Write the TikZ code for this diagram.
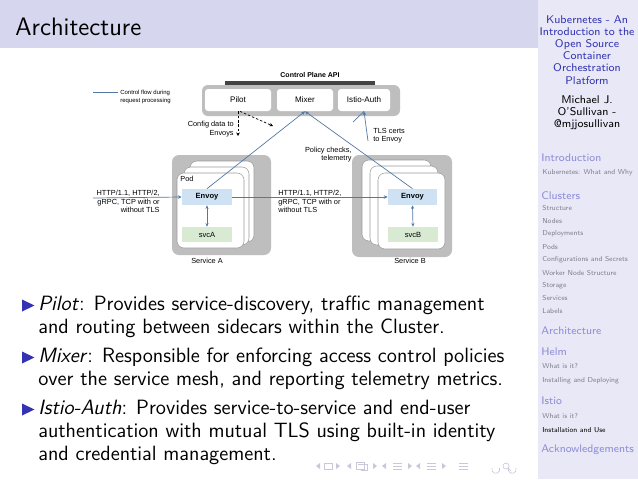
\documentclass[tikz,border=0pt]{standalone}
\usepackage{fontspec}
\newfontfamily\dg{Liberation Sans}
\usetikzlibrary{arrows.meta}
\newdimen\pxu \pxu=0.2006mm
\definecolor{hdr}{RGB}{214,214,238}
\definecolor{side}{RGB}{232,232,246}
\definecolor{struct}{RGB}{51,51,179}
\definecolor{secc}{RGB}{140,140,215}
\definecolor{subc}{RGB}{125,125,140}
\definecolor{svcgray}{RGB}{190,190,190}
\definecolor{podline}{RGB}{155,155,155}
\definecolor{envoyc}{RGB}{207,226,243}
\definecolor{svcc}{RGB}{217,234,211}
\definecolor{flow}{RGB}{84,120,165}
\definecolor{barc}{RGB}{67,67,67}
\definecolor{navc}{RGB}{200,200,218}
\tikzset{
  sz/.style 2 args={minimum width=#1\pxu, minimum height=#2\pxu, inner sep=0pt},
  lbl/.style={font=\dg\fontsize{4.2}{4.9}\selectfont, inner sep=0pt},
  bigbg/.style={fill=svcgray, draw=none, rounded corners=7\pxu},
  pod/.style={fill=white, draw=podline, line width=0.3pt, rounded corners=7\pxu},
  cpbox/.style={fill=white, draw=none, rounded corners=3\pxu, font=\dg\fontsize{4.6}{5}\selectfont},
  envbox/.style={fill=envoyc, draw=none, font=\dg\bfseries\fontsize{4.3}{5}\selectfont},
  svcbox/.style={fill=svcc, draw=none, font=\dg\fontsize{4.3}{5}\selectfont},
  flowarr/.style={draw=flow, line width=0.4pt, -{Stealth[length=2.2pt,width=2pt]}},
  flowdbl/.style={draw=flow, line width=0.4pt, {Stealth[length=2pt,width=1.8pt]}-{Stealth[length=2pt,width=1.8pt]}},
  flowline/.style={draw=flow, line width=0.4pt},
  dasharr/.style={draw=black, line width=0.4pt, dash pattern=on 1.4pt off 1.1pt, -{Stealth[length=2pt,width=2pt]}},
  sec/.style={anchor=west, text=secc, font=\sffamily\fontsize{6.3}{7}\selectfont, inner sep=0pt},
  subsec/.style={anchor=west, text=subc, font=\sffamily\fontsize{4.1}{5}\selectfont, inner sep=0pt},
  body/.style={anchor=base west, font=\sffamily\fontsize{11.8}{14}\selectfont, inner sep=0pt},
}
\begin{document}
\begin{tikzpicture}[x=\pxu, y=-\pxu]
\useasboundingbox (0,0) rectangle (638,479);
\fill[white] (0,0) rectangle (638,479);
% header and sidebar
\fill[hdr] (0,0) rectangle (538,48);
\fill[side] (538,0) rectangle (638,479);
\node[anchor=base west, inner sep=0pt, font=\sffamily\fontsize{14.4}{17}\selectfont] (title) at (15,35) {Architecture};

% sidebar
\node[anchor=north, align=center, inner sep=0pt, text=struct, font=\sffamily\fontsize{6.4}{6.95}\selectfont] (stitle) at (587,15) {Kubernetes - An\\Introduction to the\\Open Source\\Container\\Orchestration\\Platform};
\node[anchor=north, align=center, inner sep=0pt, font=\sffamily\fontsize{6.4}{6.95}\selectfont] (sauthor) at (587,95) {Michael J.\\O'Sullivan -\\@mjjosullivan};
\node[sec] (n1) at (541,158) {Introduction};
\node[subsec] (n2) at (542,173) {Kubernetes: What and Why};
\node[sec] (n3) at (541,196) {Clusters};
\node[subsec] (n4) at (542,208) {Structure};
\node[subsec] (n5) at (542,221) {Nodes};
\node[subsec] (n6) at (542,234) {Deployments};
\node[subsec] (n7) at (542,247) {Pods};
\node[subsec] (n8) at (542,260) {Configurations and Secrets};
\node[subsec] (n9) at (542,273) {Worker Node Structure};
\node[subsec] (n10) at (542,286) {Storage};
\node[subsec] (n11) at (542,298) {Services};
\node[subsec] (n12) at (542,311) {Labels};
\node[sec] (n13) at (541,331) {Architecture};
\node[sec] (n14) at (541,352) {Helm};
\node[subsec] (n15) at (542,366) {What is it?};
\node[subsec] (n16) at (542,381) {Installing and Deploying};
\node[sec] (n17) at (541,401) {Istio};
\node[subsec] (n18) at (542,416) {What is it?};
\node[subsec, text=black] (n19) at (542,430) {Installation and Use};
\node[sec] (n20) at (541,450) {Acknowledgements};

% ---------- diagram ----------
% legend
\coordinate (lg1) at (93,92);
\coordinate (lg2) at (118,92);
\draw[flowline] (lg1) -- (lg2);
\node[lbl, anchor=west, align=left, font=\dg\fontsize{3.4}{4.2}\selectfont] (legend) at (120,97) {Control flow during\\request processing};

% control plane
\node[lbl, font=\dg\bfseries\fontsize{4}{5}\selectfont] (cpapi) at (310,75) {Control Plane API};
\node[sz={150}{4}, fill=barc] (cpbar) at (300,83) {};
\node[sz={198}{31}, bigbg, rounded corners=6\pxu] (cp) at (301,100.5) {};
\node[sz={66}{22}, cpbox] (pilot) at (238,100) {Pilot};
\node[sz={56}{22}, cpbox] (mixer) at (305,100) {Mixer};
\node[sz={52}{22}, cpbox] (auth) at (364,100) {Istio-Auth};

% service A
\node[sz={99}{100}, bigbg] (servA) at (221.5,205) {};
\node[sz={64}{81}, pod] (podA3) at (222,201.5) {};
\node[sz={65}{78}, pod] (podA2) at (216.5,206) {};
\node[sz={67}{75}, pod] (podA1) at (210.5,210.5) {};
\node[lbl, anchor=west] (podlbl) at (180,179) {Pod};
\node[sz={50}{16}, envbox] (envA) at (207,197) {Envoy};
\node[sz={50}{15}, svcbox] (svcA) at (207,234.5) {svcA};
\node[lbl] (servAl) at (207,261) {Service A};

% service B
\node[sz={100}{102}, bigbg] (servB) at (402,206) {};
\node[sz={69}{81}, pod] (podB3) at (396.5,200.5) {};
\node[sz={68}{79}, pod] (podB2) at (404,205.5) {};
\node[sz={67}{76}, pod] (podB1) at (411.5,211) {};
\node[sz={49}{16}, envbox] (envB) at (412.5,197) {Envoy};
\node[sz={50}{15}, svcbox] (svcB) at (413,234.5) {svcB};
\node[lbl] (servBl) at (410,261) {Service B};

% connectors
\coordinate (inA) at (93,198);
\draw[flowarr] (inA) -- (envA.west);
\draw[flowarr] (envA.east) -- (envB.west);
\draw[flowdbl] (envA.south) -- (svcA.north);
\draw[flowdbl] (envB.south) -- (svcB.north);
\draw[flowarr] (envA.north) -- (mixer.south);
\draw[flowarr] (envB.north) -- (mixer.south);
\coordinate (tlsend) at (368,141);
\coordinate (tlsstub) at (353,122);
\draw[flowarr] (tlsend) -- (auth.south);
\draw[flowline] (auth.south) -- (tlsstub);
\coordinate (cfg1) at (238,136);
\coordinate (cfg2) at (273,126);
\draw[dasharr] (pilot.south) -- (cfg1);
\draw[dasharr] ([xshift=2\pxu]pilot.south) -- (cfg2);

% labels
\node[lbl, anchor=east, align=right] (cfglbl) at (234,129) {Config data to\\Envoys};
\node[lbl, anchor=east, align=right] (pollbl) at (352,154.5) {Policy checks,\\telemetry};
\node[lbl, anchor=west, align=left] (tlslbl) at (373,135.5) {TLS certs\\to Envoy};
\node[lbl, anchor=east, align=right] (httpA) at (160,201.5) {HTTP/1.1, HTTP/2,\\gRPC, TCP with or\\without TLS};
\node[lbl, anchor=west, align=left] (httpB) at (278,201.5) {HTTP/1.1, HTTP/2,\\gRPC, TCP with or\\without TLS};

% ---------- bullets ----------
\fill[struct] (22,299.5) -- (34.5,305.5) -- (22,311.5) -- cycle;
\fill[struct] (22,351.5) -- (34.5,357.5) -- (22,363.5) -- cycle;
\fill[struct] (22,403.5) -- (34.5,409.5) -- (22,415.5) -- cycle;
\node[body] (b1) at (38,310) {\textit{Pilot}: Provides service-discovery, traffic management};
\node[body] (b2) at (38,333) {and routing between sidecars within the Cluster.};
\node[body] (b3) at (38,362) {\textit{Mixer}: Responsible for enforcing access control policies};
\node[body] (b4) at (38,385) {over the service mesh, and reporting telemetry metrics.};
\node[body] (b5) at (38,414) {\textit{Istio-Auth}: Provides service-to-service and end-user};
\node[body] (b6) at (38,437) {authentication with mutual TLS using built-in identity};
\node[body] (b7) at (38,460) {and credential management.};

% ---------- navigation symbols ----------
\foreach \cx/\w in {318/20,349/26,384/26,418/26}{
  \fill[navc] (\cx+2,463) -- (\cx-2,466) -- (\cx+2,469) -- cycle;
  \fill[navc] (\cx+\w-2,463) -- (\cx+\w+2,466) -- (\cx+\w-2,469) -- cycle;
}
\draw[navc, line width=0.35pt] (324,463) rectangle (332,469);
\draw[navc, line width=0.35pt] (356,462) rectangle (364,469) (358,464) -- (367,464) -- (367,470) -- (361,470);
\foreach \cx in {393,427,459}{
  \draw[navc, line width=0.35pt] (\cx,463) -- (\cx+9,463) (\cx,466) -- (\cx+9,466) (\cx,469) -- (\cx+9,469);
}
\draw[navc, line width=0.35pt] (492,468) arc (200:-20:4);
\draw[navc, line width=0.35pt] (506,466) circle (3) (508,468) -- (511,471);
\draw[navc, line width=0.35pt] (516,468) arc (-20:200:4);
\end{tikzpicture}
\end{document}
